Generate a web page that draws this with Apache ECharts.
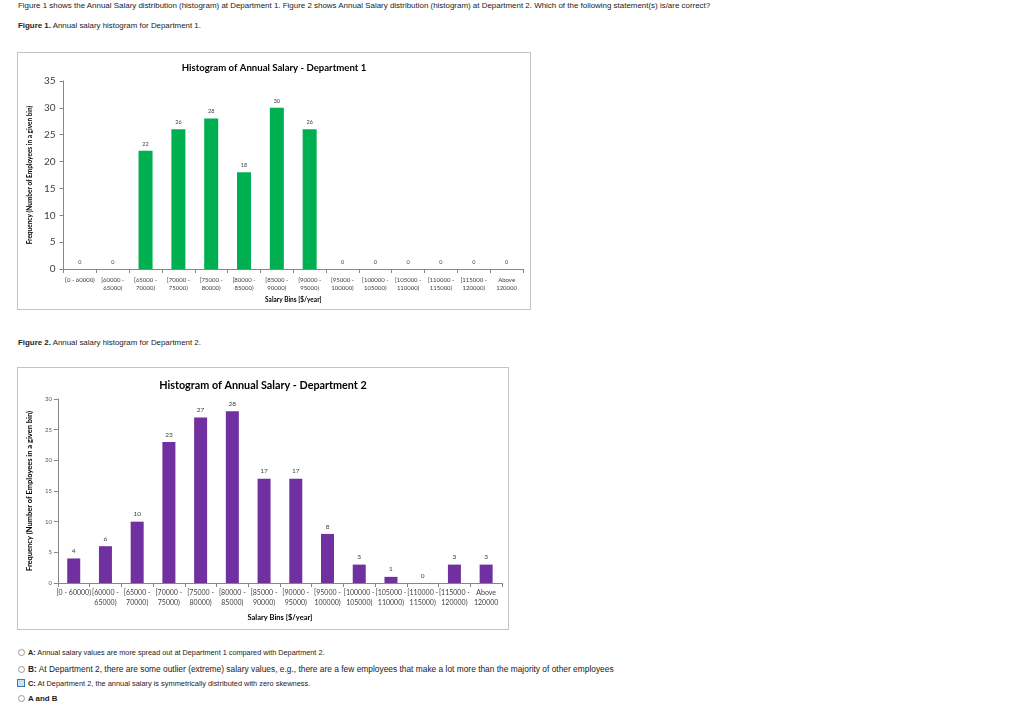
<!DOCTYPE html>
<html>
<head>
<meta charset="utf-8">
<script src="https://cdn.jsdelivr.net/npm/echarts@6/dist/echarts.min.js"></script>
<style>
  html, body { margin:0; padding:0; background:#fff; width:1024px; height:712px; overflow:hidden; }
  .txt { position:absolute; font-family:"Liberation Sans", Arial, sans-serif; font-size:7.9px; color:#222; white-space:nowrap; line-height:10px; }
  .chart { position:absolute; border:1px solid #c4c4c4; box-sizing:border-box; }
  .radio { display:inline-block; width:5px; height:5px; border:1px solid #999; border-radius:50%; margin-right:3px; vertical-align:-1px; }
  .check { display:inline-block; width:6px; height:6px; border:1px solid #3a76b8; background:#cfe0f2; margin-right:3px; vertical-align:-1px; }
</style>
</head>
<body>
<div class="txt" style="left:18px;top:1px;font-size:7.95px;">Figure 1 shows the Annual Salary distribution (histogram) at Department 1. Figure 2 shows Annual Salary distribution (histogram) at Department 2. Which of the following statement(s) is/are correct?</div>
<div class="txt" style="left:18px;top:21px;"><b>Figure 1.</b> Annual salary histogram for Department 1.</div>
<div id="c1" class="chart" style="left:17px;top:52px;width:514px;height:258px;"></div>
<div class="txt" style="left:18px;top:338px;"><b>Figure 2.</b> Annual salary histogram for Department 2.</div>
<div id="c2" class="chart" style="left:17px;top:367px;width:492px;height:263px;"></div>
<div class="txt" style="left:18px;top:648px;font-size:7.3px;"><span class="radio"></span><b>A:</b> Annual salary values are more spread out at Department 1 compared with Department 2.</div>
<div class="txt" style="left:18px;top:664px;font-size:8.4px;"><span class="radio"></span><b>B:</b> At Department 2, there are some outlier (extreme) salary values, e.g., there are a few employees that make a lot more than the majority of other employees</div>
<div class="txt" style="left:17px;top:679px;font-size:7.4px;"><span class="check"></span><b>C:</b> At Department 2, the annual salary is symmetrically distributed with zero skewness.</div>
<div class="txt" style="left:18px;top:694px;"><span class="radio"></span><b>A and B</b></div>
<script>
const categories = ["[0 - 60000)", "[60000 -\n65000)", "[65000 -\n70000)", "[70000 -\n75000)", "[75000 -\n80000)", "[80000 -\n85000)", "[85000 -\n90000)", "[90000 -\n95000)", "[95000 -\n100000)", "[100000 -\n105000)", "[105000 -\n110000)", "[110000 -\n115000)", "[115000 -\n120000)", "Above\n120000"];
const dept1 = [0, 0, 22, 26, 28, 18, 30, 26, 0, 0, 0, 0, 0, 0];
const dept2 = [4, 6, 10, 23, 27, 28, 17, 17, 8, 3, 1, 0, 3, 3];
const title1 = "Histogram of Annual Salary - Department 1";
const title2 = "Histogram of Annual Salary - Department 2";
const yName = "Frequency (Number of Employees in a given bin)";
const xName = "Salary Bins [$/year]";

const FONT = "Lato, 'Open Sans', sans-serif";

function build(cfg) {
  return {
    animation: false,
    textStyle: { fontFamily: FONT },
    title: {
      text: cfg.title, left: 'center', top: cfg.titleTop,
      textStyle: { fontFamily: FONT, fontWeight: 'bold', fontSize: cfg.titleSize, color: '#000' }
    },
    grid: cfg.grid,
    xAxis: {
      type: 'category', data: categories,
      name: xName, nameLocation: 'middle', nameGap: cfg.xNameGap,
      nameTextStyle: { fontFamily: FONT, fontWeight: 'bold', fontSize: cfg.xNameSize, color: '#000' },
      axisLine: { lineStyle: { color: '#868686', width: 1 } },
      axisTick: { show: true, length: 4, lineStyle: { color: '#868686' } },
      axisLabel: { interval: 0, fontSize: cfg.xLabSize, lineHeight: cfg.xLabLH, margin: cfg.xLabMargin, color: '#404040', fontFamily: FONT }
    },
    yAxis: {
      type: 'value', min: 0, max: cfg.ymax, interval: 5,
      name: yName, nameLocation: 'middle', nameGap: cfg.yNameGap, nameRotate: 90,
      nameTextStyle: { fontFamily: FONT, fontWeight: 'bold', fontSize: cfg.yNameSize, color: '#000' },
      axisLine: { show: true, lineStyle: { color: '#868686', width: 1 } },
      axisTick: { show: true, length: 4, lineStyle: { color: '#868686' } },
      axisLabel: { fontSize: cfg.yLabSize, color: cfg.yLabColor, margin: cfg.yLabMargin, fontFamily: FONT },
      splitLine: { show: false }
    },
    series: [{
      type: 'bar', data: cfg.data, barWidth: cfg.barWidth,
      itemStyle: { color: cfg.color },
      label: { show: true, position: 'top', distance: 4, fontSize: cfg.valSize, color: '#404040', fontFamily: FONT }
    }]
  };
}

const c1 = echarts.init(document.getElementById('c1'));
c1.setOption(build({
  title: title1, titleTop: 5, titleSize: 9.6,
  grid: { left: 37, top: 28, width: 468, height: 188 },
  xNameGap: 25, xNameSize: 6.5, xLabSize: 6, xLabLH: 8, xLabMargin: 7,
  ymax: 35, yNameGap: 24, yNameSize: 6.5, yLabSize: 10, yLabColor: '#404040', yLabMargin: 8,
  data: dept1, barWidth: 14, color: '#00b050', valSize: 5.5
}));

const c2 = echarts.init(document.getElementById('c2'));
c2.setOption(build({
  title: title2, titleTop: 7, titleSize: 10.8,
  grid: { left: 34, top: 31, width: 450, height: 184 },
  xNameGap: 31, xNameSize: 7.5, xLabSize: 7, xLabLH: 10, xLabMargin: 5,
  ymax: 30, yNameGap: 21, yNameSize: 7.5, yLabSize: 6, yLabColor: '#595959', yLabMargin: 6,
  data: dept2, barWidth: 13, color: '#7030a0', valSize: 6.5
}));
</script>
</body>
</html>
